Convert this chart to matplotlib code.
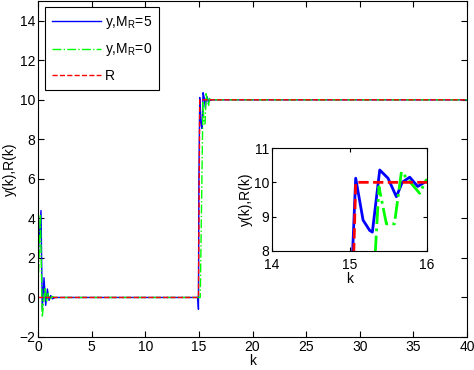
import matplotlib
matplotlib.use("Agg")
import matplotlib.pyplot as plt

plt.rcParams['font.family'] = ['Liberation Sans', 'DejaVu Sans']
plt.rcParams['font.size'] = 10

# series
k_blue = [0, 0.28, 0.40, 0.56, 0.72, 0.875, 1.03, 1.19, 1.34, 1.6, 14.9, 14.96, 15.0,
          15.08, 15.175, 15.26, 15.295, 15.39, 15.497, 15.605, 15.68, 15.777, 15.88,
          15.99, 16.1, 16.25, 40]
y_blue = [2.0, 4.4, -0.65, 1.0, -0.4, 0.43, -0.15, 0.1, -0.07, 0, 0, -0.6, 5.8,
          10.12, 8.9, 8.6, 8.55, 10.36, 10.12, 9.58, 10.0, 10.15, 9.88,
          10.03, 9.97, 10.0, 10]

k_green = [0, 0.1, 0.22, 0.40, 0.66, 0.8, 0.95, 1.1, 1.3, 1.6, 15.13, 15.334, 15.38,
           15.476, 15.58, 15.67, 15.905, 15.99, 16.1, 16.25, 40]
y_green = [0.5, 2.0, 4.2, -1.0, 0.5, -0.23, 0.2, -0.1, 0.05, 0, 0, 8.0, 9.87,
           8.79, 8.79, 10.31, 9.68, 10.07, 9.95, 10.0, 10]

k_ref = [0, 14.96, 15.08, 40]
y_ref = [0, 0, 10, 10]

W, H = 474, 370
fig = plt.figure(figsize=(W / 100, H / 100), dpi=100)

# main axes
ax = fig.add_axes([38 / W, (H - 337) / H, (467 - 38) / W, (337 - 1) / H])
ax.plot(k_blue, y_blue, color='#0000ff', lw=1, label='y,M$_\\mathregular{R}$=5')
ax.plot(k_green, y_green, color='#00ff00', lw=1, ls='-.', label='y,M$_\\mathregular{R}$=0')
ax.plot(k_ref, y_ref, color='#ff0000', lw=1, ls='--', label='R')
ax.set_xlim(0, 40)
ax.set_ylim(-2, 15)
ax.set_xticks(range(0, 41, 5))
ax.set_yticks(range(-2, 15, 2))
ax.tick_params(direction='in', top=True, right=True, length=4, pad=2)
ax.set_xlabel('k', labelpad=0)
ax.set_ylabel('y(k),R(k)', labelpad=2)
leg = ax.legend(loc='upper left', bbox_to_anchor=(7 / 429, 1 - 6 / 336), borderaxespad=0,
                fancybox=False, framealpha=1, edgecolor='black', handlelength=3.5,
                labelspacing=0.75, handletextpad=0.3, borderpad=0.5)
leg.get_frame().set_linewidth(0.8)

# inset axes
ins = fig.add_axes([272 / W, (H - 251) / H, (427 - 272) / W, (251 - 148) / H])
ins.plot(k_blue, y_blue, color='#0000ff', lw=2)
ins.plot(k_green, y_green, color='#00ff00', lw=2, ls='-.')
ins.plot(k_ref, y_ref, color='#ff0000', lw=2, ls='--')
ins.set_xlim(14, 16)
ins.set_ylim(8, 11)
ins.set_xticks([14, 15, 16])
ins.set_yticks([8, 9, 10, 11])
ins.tick_params(direction='in', top=True, right=True, length=3)
ins.tick_params(axis='x', pad=5)
ins.tick_params(axis='y', pad=2)
ins.set_xlabel('k', labelpad=0)
ins.set_ylabel('y(k),R(k)', labelpad=1)

fig.savefig('out.png', dpi=100)
